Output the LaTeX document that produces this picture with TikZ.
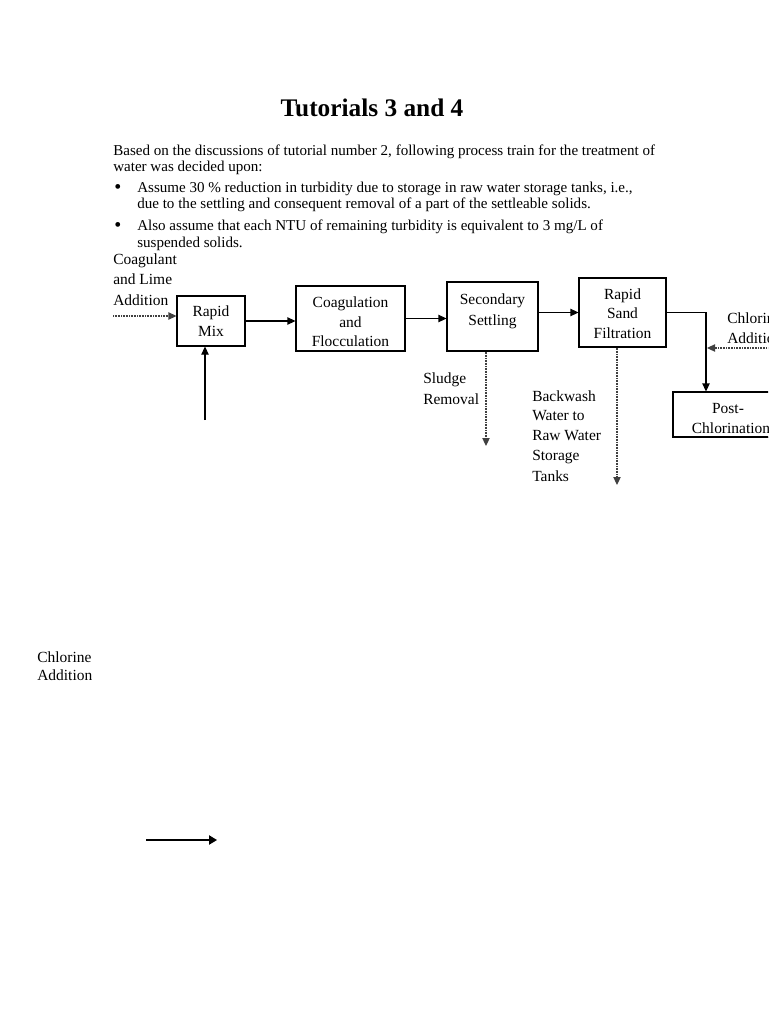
\documentclass[tikz,border=0pt]{standalone}
\usepackage{fontspec}
\setmainfont{Liberation Serif}
\usetikzlibrary{arrows.meta}
\tikzset{
  px/.style={x=0.75pt,y=-0.75pt},
  box/.style={draw,line width=0.8pt,inner sep=0pt},
  ptxt/.style={inner sep=0pt,anchor=base west,font=\fontsize{11.3}{14}\selectfont},
  txt/.style={inner sep=0pt,anchor=base west,font=\fontsize{11.6}{15}\selectfont},
  ctxt/.style={inner sep=0pt,anchor=base,font=\fontsize{11.6}{15}\selectfont},
  arr/.style={line width=0.8pt,-{Triangle[length=6pt,width=5.5pt]}},
  dotarr/.style={line width=0.8pt,black!75,dash pattern=on 0.6pt off 0.6pt,-{Triangle[length=6pt,width=5.5pt]}}
}
\begin{document}
\begin{tikzpicture}[px]
\useasboundingbox (0,0) rectangle (768,1024);
\clip (0,0) rectangle (768,1024);
\fill[white] (0,0) rectangle (768,1024);
% title
\node[inner sep=0pt,anchor=base,font=\bfseries\fontsize{19}{23}\selectfont] (title) at (372,117) {Tutorials 3 and 4};
% paragraph
\node[ptxt] (p1) at (113,155) {Based on the discussions of tutorial number 2, following process train for the treatment of};
\node[ptxt] (p2) at (113,171) {water was decided upon:};
\node[ptxt,font=\fontsize{15}{15}\selectfont] (b1) at (114,193) {\textbullet};
\node[ptxt] (p3) at (137,192) {Assume 30 \% reduction in turbidity due to storage in raw water storage tanks, i.e.,};
\node[ptxt] (p4) at (137,208) {due to the settling and consequent removal of a part of the settleable solids.};
\node[ptxt,font=\fontsize{15}{15}\selectfont] (b2) at (114,231) {\textbullet};
\node[ptxt] (p5) at (137,230) {Also assume that each NTU of remaining turbidity is equivalent to 3 mg/L of};
\node[ptxt] (p6) at (137,247) {suspended solids.};
% boxes
\node[box,minimum width=51pt,minimum height=37.5pt] (rm) at (211,321) {};
\node[box,minimum width=81.75pt,minimum height=48.75pt] (cf) at (350.5,318.5) {};
\node[box,minimum width=68.25pt,minimum height=51.75pt] (ss) at (492.5,316.5) {};
\node[box,minimum width=65.25pt,minimum height=51.75pt] (rsf) at (622.5,312.5) {};
\node[box,minimum width=82.5pt,minimum height=33.75pt] (pc) at (728,414.5) {};
% box texts
\node[ctxt] (rm1) at (211,316) {Rapid};
\node[ctxt] (rm2) at (211,336) {Mix};
\node[ctxt] (cf1) at (350.5,307) {Coagulation};
\node[ctxt] (cf2) at (350.5,327) {and};
\node[ctxt] (cf3) at (350.5,346) {Flocculation};
\node[ctxt] (ss1) at (492.5,304) {Secondary};
\node[ctxt] (ss2) at (492.5,325) {Settling};
\node[ctxt] (rsf1) at (622.5,299) {Rapid};
\node[ctxt] (rsf2) at (622.5,318) {Sand};
\node[ctxt] (rsf3) at (622.5,338) {Filtration};
\node[ctxt] (pc1) at (728,413) {Post-};
\node[ctxt] (pc2) at (731,433) {Chlorination};
\fill[white] (674,437.8) rectangle (768,445);
\draw[line width=0.8pt] (pc.south west) -- (pc.south east);
% labels
\node[txt] (co1) at (113,264) {Coagulant};
\node[txt] (co2) at (113,284) {and Lime};
\node[txt] (co3) at (113,305) {Addition};
\node[txt] (cr1) at (727,323) {Chlorine};
\node[txt] (cr2) at (727,343) {Addition};
\node[txt] (sl1) at (423,383) {Sludge};
\node[txt] (sl2) at (423,404) {Removal};
\node[txt] (bw1) at (532,401) {Backwash};
\node[txt] (bw2) at (532,420) {Water to};
\node[txt] (bw3) at (532,440) {Raw Water};
\node[txt] (bw4) at (532,460) {Storage};
\node[txt] (bw5) at (532,481) {Tanks};
\node[txt] (cl1) at (37,662) {Chlorine};
\node[txt] (cl2) at (37,680) {Addition};
% coordinates
\coordinate (coagin) at (113,316);
\coordinate (rawin) at (205,420);
\coordinate (sludge) at (486,446);
\coordinate (bw) at (617,485);
\coordinate (clin) at (770,348);
\coordinate (cljoin) at (707,348);
\coordinate (a1) at (146,840);
\coordinate (a2) at (217,840);
% connectors
\draw[dotarr] (coagin) -- (coagin -| rm.west);
\draw[arr] (rm.east) -- (rm.east -| cf.west);
\draw[arr] (cf.east) -- (cf.east -| ss.west);
\draw[arr] (ss.east |- rsf.west) -- (rsf.west);
\draw[arr] (rsf.east) -| ([xshift=-16.5pt]pc.north);
\draw[dotarr] (clin) -- (cljoin);
\draw[arr] (rawin) -- (rawin |- rm.south);
\draw[dotarr] (sludge |- ss.south) -- (sludge);
\draw[dotarr] (bw |- rsf.south) -- (bw);
\draw[line width=0.9pt,-{Triangle[length=6pt,width=7pt]}] (a1) -- (a2);
\end{tikzpicture}
\end{document}
